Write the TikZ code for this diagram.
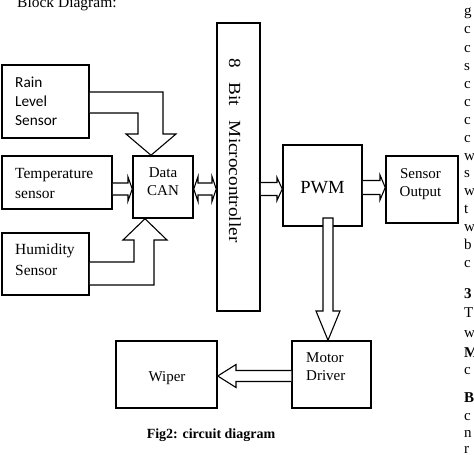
\documentclass[tikz,border=0pt]{standalone}
\usepackage{fontspec}
\setmainfont{Liberation Serif}
\newfontfamily\calib{Carlito}
\usetikzlibrary{calc}
\begin{document}
\begin{tikzpicture}[x=1pt,y=-1pt,
  box/.style={draw, line width=1.5pt, inner sep=0pt},
  conn/.style={draw, line width=1.1pt, fill=white, line join=miter},
  txt/.style={inner sep=0pt, font=\fontsize{15.5}{20}\selectfont},
  side/.style={inner sep=0pt, anchor=base west, font=\fontsize{15}{18}\selectfont}]
\useasboundingbox (0,0) rectangle (474,455);
\clip (0,0) rectangle (474,455);

% title
\node[txt, anchor=base west] (title) at (17,8) {Block Diagram:};

% boxes
\node[box, minimum width=87, minimum height=73] (rain) at (45.5,101.5) {};
\node[box, minimum width=110, minimum height=53] (temp) at (57,182.5) {};
\node[box, minimum width=87, minimum height=62] (hum) at (45.5,264) {};
\node[box, minimum width=60, minimum height=62] (can) at (163,187) {};
\node[box, minimum width=43, minimum height=288] (micro) at (238.5,167) {};
\node[box, minimum width=79, minimum height=81] (pwm) at (322.5,185.5) {};
\node[box, minimum width=72, minimum height=67] (out) at (422,189.5) {};
\node[box, minimum width=79, minimum height=67] (motor) at (331.5,374.5) {};
\node[box, minimum width=101, minimum height=67] (wiper) at (166.5,374.5) {};

% texts
\node[txt, anchor=west, align=left, font=\calib\fontsize{15.3}{19}\selectfont] (rainT) at (15,101) {Rain\\Level\\Sensor};
\node[txt, anchor=west, align=left] (tempT) at (15,183) {Temperature\\sensor};
\node[txt, anchor=west, align=left, font=\fontsize{15.5}{21}\selectfont] (humT) at (15,259.5) {Humidity\\Sensor};
\node[txt, align=center, font=\fontsize{15}{18}\selectfont] (canT) at (163,182) {Data\\CAN};
\node[txt, rotate=-90, font=\fontsize{17}{20}\selectfont] (microT) at (235,150.5) {\scalebox{1.13}[1]{8\hspace{13pt}Bit\hspace{13pt}Microcontroller}};
\node[txt, font=\fontsize{18.5}{22}\selectfont] (pwmT) at (322.5,188) {PWM};
\node[txt, align=center, font=\fontsize{15}{18}\selectfont] (outT) at (420.5,184) {Sensor\\Output};
\node[txt, anchor=west, align=left, font=\fontsize{15}{18}\selectfont] (motorT) at (306,366.5) {Motor\\Driver};
\node[txt, font=\fontsize{15}{18}\selectfont] (wiperT) at (167,378) {Wiper};
\node[txt, font=\bfseries\fontsize{14}{16}\selectfont] (caption) at (211,434.7) {Fig2: circuit diagram};

% hollow arrows
\draw[conn] (rain.east |- 0,92) -- (163,92) -- (163,134) -- (176,134) -- (can.north -| 151,0) -- (126,134) -- (138,134) -- (138,113) -- (rain.east |- 0,113);
\draw[conn] (hum.east |- 0,262) -- (134,262) -- (134,240) -- (123,240) -- (can.south -| 145,0) -- (167,240) -- (154,240) -- (154,285) -- (hum.east |- 0,285);
\draw[conn] (temp.east |- 0,183) -- (128,183) -- (128,177) -- (can.west |- 0,189) -- (128,201) -- (128,195) -- (temp.east |- 0,195);
\draw[conn] (can.east |- 0,189) -- (198,176.5) -- (198,183) -- (212,183) -- (212,176.5) -- (micro.west |- 0,189) -- (212,201.5) -- (212,195) -- (198,195) -- (198,201.5) -- cycle;
\draw[conn] (micro.east |- 0,182.5) -- (277,182.5) -- (277,177.5) -- (pwm.west |- 0,189) -- (277,200.5) -- (277,195.5) -- (micro.east |- 0,195.5);
\draw[conn] (pwm.east |- 0,180.5) -- (380,180.5) -- (380,175) -- (out.west |- 0,187.5) -- (380,200) -- (380,194.5) -- (pwm.east |- 0,194.5);
\draw[conn] (323,218) -- (333,218) -- (333,311) -- (340,311) -- (motor.north -| 328,0) -- (316,311) -- (323,311) -- cycle;
\draw[conn] (motor.west |- 0,370.5) -- (236,370.5) -- (236,364.5) -- (wiper.east |- 0,376) -- (236,387.5) -- (236,381.5) -- (motor.west |- 0,381.5);

% cut-off neighbouring column
\node[side] (s1) at (464,16) {g};
\node[side] (s2) at (464,34) {c};
\node[side] (s3) at (464,52) {c};
\node[side] (s4) at (464,70) {s};
\node[side] (s5) at (464,88) {c};
\node[side] (s6) at (464,106) {c};
\node[side] (s7) at (464,124) {c};
\node[side] (s8) at (464,142) {c};
\node[side] (s9) at (464,160) {w};
\node[side] (s10) at (464,177) {s};
\node[side] (s11) at (464,195) {w};
\node[side] (s12) at (464,213) {t};
\node[side] (s13) at (464,231) {w};
\node[side] (s14) at (464,249) {b};
\node[side] (s15) at (464,267) {c};
\node[side, font=\bfseries\fontsize{15}{18}\selectfont] (s16) at (464,298) {3};
\node[side] (s17) at (464,317) {T};
\node[side] (s18) at (464,337) {w};
\node[side, font=\bfseries\fontsize{15}{18}\selectfont] (s19) at (464,357) {M};
\node[side] (s20) at (464,374) {c};
\node[side, font=\bfseries\fontsize{15}{18}\selectfont] (s21) at (464,402) {B};
\node[side] (s22) at (464,420) {c};
\node[side] (s23) at (464,437) {n};
\node[side] (s24) at (464,453) {r};
\end{tikzpicture}
\end{document}
